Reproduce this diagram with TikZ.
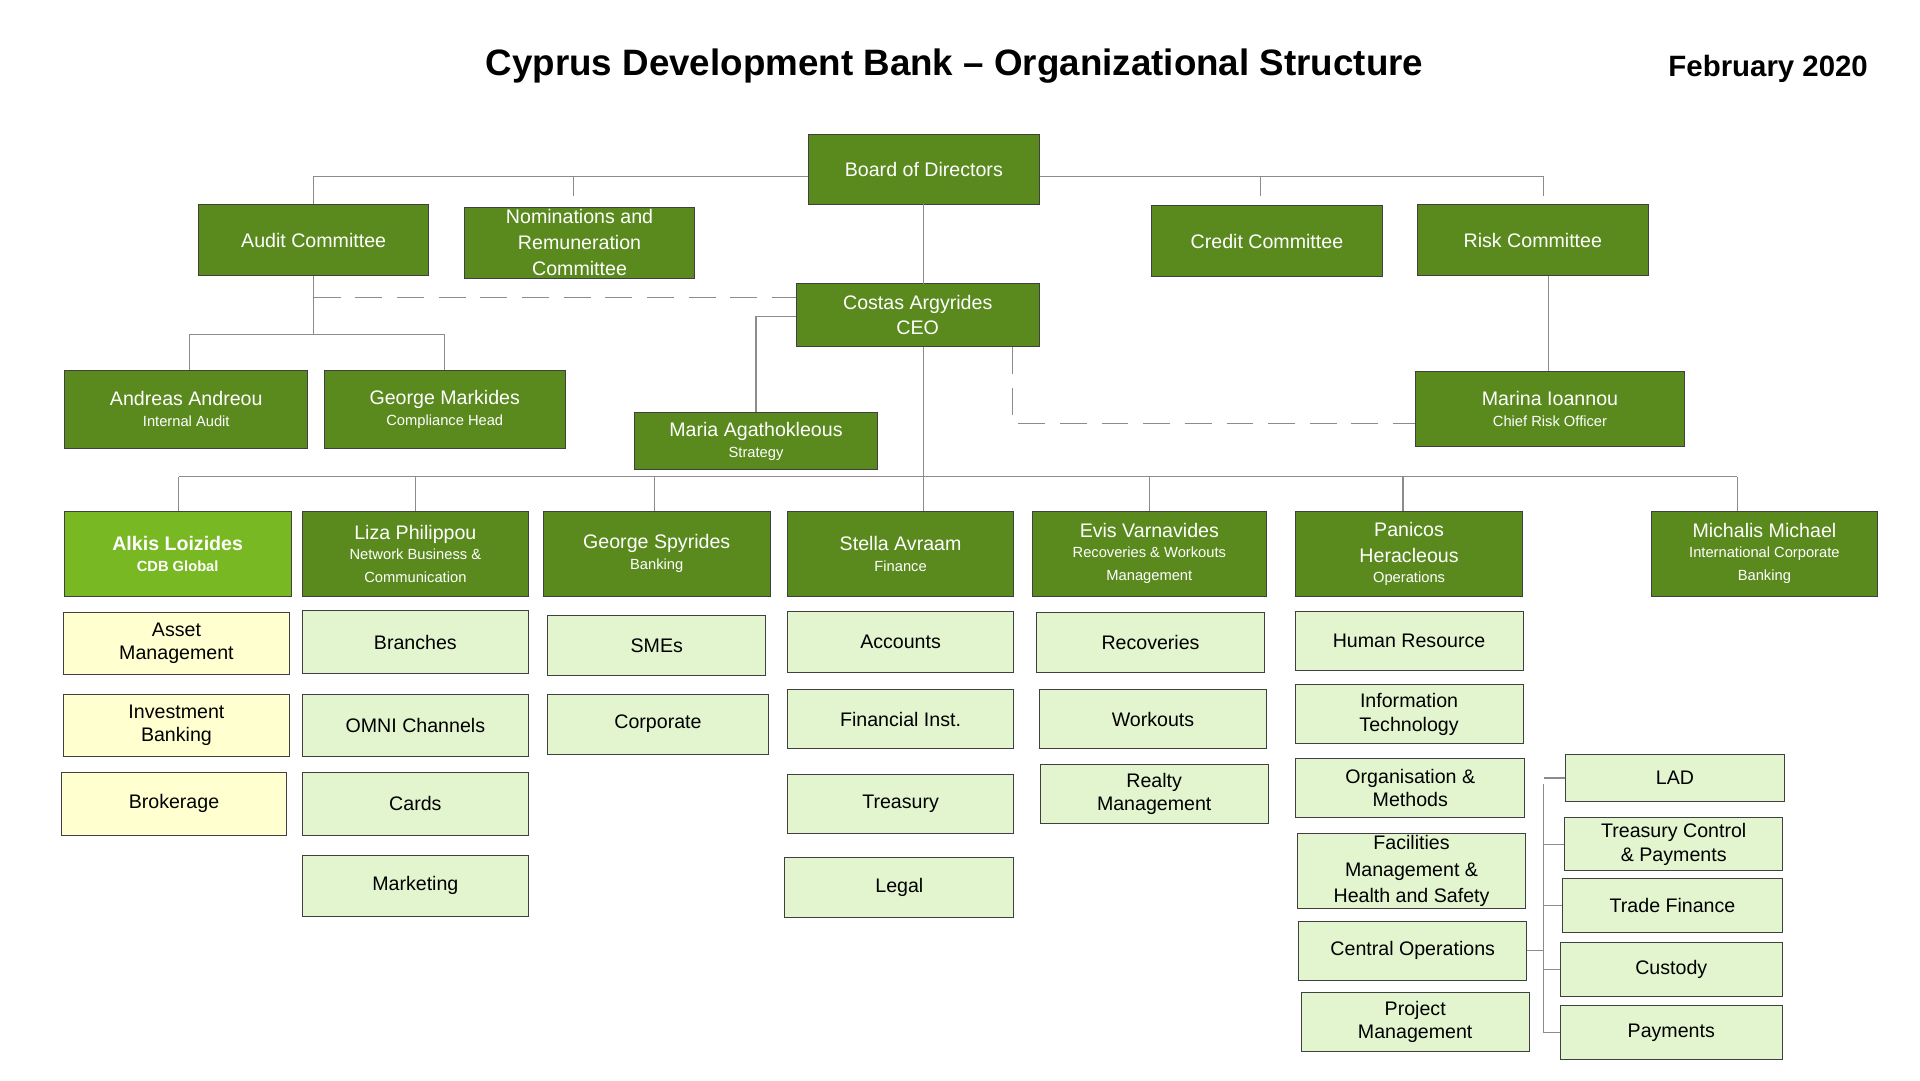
\documentclass[tikz,border=0pt]{standalone}
\usepackage{fontspec}
\setmainfont{Liberation Sans}
\definecolor{dg}{HTML}{5A8A1E}
\definecolor{bg}{HTML}{78B822}
\definecolor{lg}{HTML}{E2F5CF}
\definecolor{yl}{HTML}{FFFFD0}
\definecolor{ln}{HTML}{8C8C8C}
\newcommand\smf{\fontsize{12}{14}\selectfont}
\begin{document}
\begin{tikzpicture}[x=1pt,y=-1pt,
 base/.style={draw=black!75,line width=0.8pt,align=center,inner sep=1pt,font=\fontsize{16}{19}\selectfont},
 dbox/.style={base,fill=dg,text=white},
 abox/.style={base,fill=bg,text=white,font=\bfseries\fontsize{16}{19}\selectfont},
 lbox/.style={base,fill=lg,text=black,minimum width=185,minimum height=49},
 ybox/.style={base,fill=yl,text=black,minimum width=184,minimum height=51},
 hbox/.style={dbox,minimum width=185,minimum height=69},
 conn/.style={draw=ln,line width=0.9pt},
 dconn/.style={conn,dash pattern=on 22pt off 12pt}]
\useasboundingbox (0,0) rectangle (1567,882);
\node[font=\bfseries\fontsize{30}{36}\selectfont] (title) at (779,54) {Cyprus Development Bank -- Organizational Structure};
\node[font=\bfseries\fontsize{24}{28}\selectfont,anchor=east] (date) at (1528,56) {February 2020};
% top
\node[dbox,minimum width=188,minimum height=57] (board) at (754,138) {Board of Directors};
\node[dbox,minimum width=188,minimum height=58] (audit) at (256,196) {Audit Committee};
\node[dbox,minimum width=188,minimum height=58,font=\fontsize{16}{21.5}\selectfont] (nom) at (473,198) {Nominations and\\Remuneration\\Committee};
\node[dbox,minimum width=188,minimum height=58] (credit) at (1034,197) {Credit Committee};
\node[dbox,minimum width=188,minimum height=58] (risk) at (1251,196) {Risk Committee};
\node[dbox,minimum width=198,minimum height=51,font=\fontsize{16}{21}\selectfont] (ceo) at (749,257) {Costas Argyrides\\CEO};
\node[dbox,minimum width=198,minimum height=64] (andreas) at (152,334) {Andreas Andreou\\[-2pt]\smf Internal Audit};
\node[dbox,minimum width=197,minimum height=64] (george) at (363,334) {George Markides\\[-2pt]\smf Compliance Head};
\node[dbox,minimum width=198,minimum height=47] (maria) at (617,360) {Maria Agathokleous\\[-2pt]\smf Strategy};
\node[dbox,minimum width=219,minimum height=61] (marina) at (1265,334) {Marina Ioannou\\[-2pt]\smf Chief Risk Officer};
% heads
\node[abox,minimum width=185,minimum height=69] (alkis) at (145,452) {Alkis Loizides\\[-2pt]\fontsize{12}{14}\selectfont CDB Global};
\node[hbox] (liza) at (339,452) {Liza Philippou\\[-3pt]\smf Network Business \&\\\smf Communication};
\node[hbox] (gspy) at (536,452) {George Spyrides\\[-2pt]\smf Banking};
\node[hbox] (stella) at (735,452) {Stella Avraam\\[-2pt]\smf Finance};
\node[hbox,minimum width=191] (evis) at (938,452) {Evis Varnavides\\[-3pt]\smf Recoveries \& Workouts\\\smf Management};
\node[hbox,font=\fontsize{16}{21}\selectfont] (panicos) at (1150,452) {Panicos\\Heracleous\\[-5pt]\smf Operations};
\node[hbox] (michalis) at (1440,452) {Michalis Michael\\[-3pt]\smf International Corporate\\\smf Banking};
% subs
\node[ybox] (asset) at (144,525) {Asset\\Management};
\node[ybox] (invest) at (144,592) {Investment\\Banking};
\node[ybox] (broker) at (142,656) {Brokerage};
\node[lbox,minimum height=51] (branches) at (339,524) {Branches};
\node[lbox,minimum height=51] (omni) at (339,592) {OMNI Channels};
\node[lbox,minimum height=51] (cards) at (339,656) {Cards};
\node[lbox,minimum height=50] (mkt) at (339,723) {Marketing};
\node[lbox,minimum width=178] (smes) at (536,527) {SMEs};
\node[lbox,minimum width=180] (corp) at (537,591) {Corporate};
\node[lbox,minimum height=50] (acc) at (735,524) {Accounts};
\node[lbox,minimum height=48] (fin) at (735,587) {Financial Inst.};
\node[lbox,minimum height=48] (treas) at (735,656) {Treasury};
\node[lbox,minimum width=187] (legal) at (734,724) {Legal};
\node[lbox,minimum width=186] (recov) at (939,524) {Recoveries};
\node[lbox,minimum width=186,minimum height=48] (work) at (941,587) {Workouts};
\node[lbox,minimum width=186,minimum height=48] (realty) at (942,648) {Realty\\Management};
\node[lbox,minimum width=186,minimum height=48] (hr) at (1150,523) {Human Resource};
\node[lbox,minimum width=186,minimum height=48] (it) at (1150,583) {Information\\Technology};
\node[lbox,minimum width=187,minimum height=48] (org) at (1151,643) {Organisation \&\\Methods};
\node[lbox,minimum width=186,minimum height=61,font=\fontsize{16}{21.5}\selectfont] (fac) at (1152,711) {Facilities\\Management \&\\Health and Safety};
\node[lbox,minimum width=186,minimum height=48] (central) at (1153,776) {Central Operations};
\node[lbox,minimum width=186,minimum height=48] (proj) at (1155,834) {Project\\Management};
\node[lbox,minimum width=178,minimum height=38] (lad) at (1367,635) {LAD};
\node[lbox,minimum width=178,minimum height=43,font=\fontsize{16}{20}\selectfont] (tc) at (1366,689) {Treasury Control\\\& Payments};
\node[lbox,minimum width=180,minimum height=44] (trade) at (1365,739) {Trade Finance};
\node[lbox,minimum width=181,minimum height=44] (cust) at (1364,791) {Custody};
\node[lbox,minimum width=181,minimum height=44] (pay) at (1364,843) {Payments};
% connectors
\coordinate (bl) at (256,144);
\coordinate (br) at (1260,144);
\draw[conn] (board.west |- bl) -- (bl) -- (audit.north);
\draw[conn] (board.east |- br) -- (br) -- (1260,160);
\draw[conn] (468,144) -- (468,160);
\draw[conn] (1029,144) -- (1029,160);
\draw[conn] (board.south) -- (754,232);
\draw[dconn] (256,243) -- (ceo.west |- 0,243);
\draw[conn] (audit.south) -- (256,273);
\draw[conn] (155,273) -- (363,273);
\draw[conn] (155,273) -- (andreas.north -| 155,0);
\draw[conn] (363,273) -- (george.north);
\draw[conn] (ceo.west |- 0,258) -- (617,258) -- (maria.north);
\draw[dconn] (826,283) -- (826,346) -- (marina.west |- 0,346);
\draw[conn] (1264,225) -- (marina.north -| 1264,0);
\draw[conn] (754,283) -- (stella.north -| 754,0);
\draw[conn] (146,389) -- (1418,389);
\foreach \x/\n in {146/alkis,339/liza,534/gspy,938/evis,1145/panicos,1418/michalis}
  \draw[conn] (\x,389) -- (\n.north -| \x,0);
\draw[conn] (1260,640) -- (1260,843);
\draw[conn] (central.east) -- (1260,776);
\foreach \n in {lad,tc,trade,cust,pay}
  \draw[conn] (\n.west -| 1260,0) -- (\n.west);
\end{tikzpicture}
\end{document}
